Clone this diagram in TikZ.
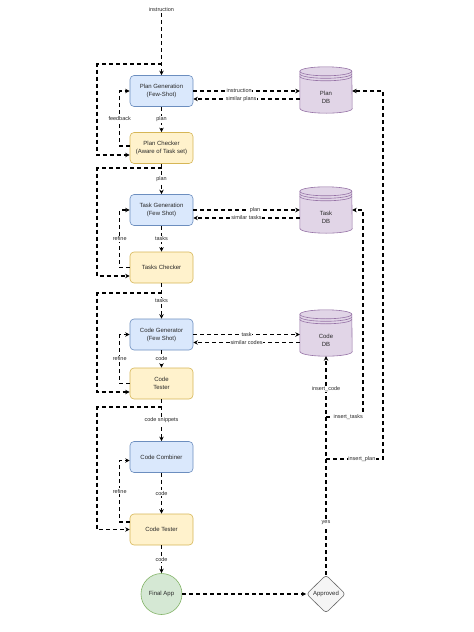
\documentclass[tikz,border=0pt]{standalone}
\usepackage{fontspec}
\setmainfont{Liberation Sans}
\usetikzlibrary{arrows.meta}
\usetikzlibrary{calc, shapes.geometric, backgrounds}
\definecolor{genfill}{RGB}{218,232,252}
\definecolor{gendraw}{RGB}{108,142,191}
\definecolor{chkfill}{RGB}{255,242,204}
\definecolor{chkdraw}{RGB}{214,182,86}
\definecolor{dbfill}{RGB}{225,213,231}
\definecolor{dbdraw}{RGB}{150,115,166}
\definecolor{appfill}{RGB}{213,232,212}
\definecolor{appdraw}{RGB}{130,179,102}
\definecolor{okfill}{RGB}{245,245,245}
\definecolor{okdraw}{RGB}{102,102,102}
\definecolor{txt}{RGB}{40,40,40}

\begin{document}
\begin{tikzpicture}[x=1pt, y=-1pt, >={Stealth[length=4.5pt,width=4.4pt]},
	box/.style={rectangle, rounded corners=4pt, minimum width=63pt, minimum height=31pt, inner sep=1pt, align=center, text=txt, font=\fontsize{6}{8}\selectfont, line width=0.6pt},
	gen/.style={box, fill=genfill, draw=gendraw},
	chk/.style={box, fill=chkfill, draw=chkdraw},
	dbbox/.style={minimum width=52pt, minimum height=32pt, inner sep=0pt, align=center, text=txt, font=\fontsize{6}{8}\selectfont},
	dbline/.style={draw=dbdraw, line width=0.6pt},
	flow/.style={->, line width=1.1pt, dash pattern=on 4pt off 3pt},
	lbl/.style={fill=white, inner sep=0.8pt, text=txt, font=\fontsize{5.5}{6}\selectfont},
]
	\useasboundingbox (0,0) rectangle (474,632);

	% main column
	\node[lbl] (instr) at (161.5,10) {instruction};
	\node[gen] (plangen) at (161.5,91) {Plan Generation\\(Few-Shot)};
	\node[chk] (plancheck) at (161.5,148) {Plan Checker\\(Aware of Task set)};
	\node[gen] (taskgen) at (161.5,210) {Task Generation\\(Few Shot)};
	\node[chk] (taskcheck) at (161.5,267.5) {Tasks Checker};
	\node[gen] (codegen) at (161.5,334.5) {Code Generator\\(Few Shot)};
	\node[chk] (codetest) at (161.5,383.5) {Code\\Tester};
	\node[gen] (combiner) at (161.5,457) {Code Combiner};
	\node[chk] (apptest) at (161.5,529.5) {Code Tester};
	\node[circle, fill=appfill, draw=appdraw, line width=0.6pt, minimum size=41pt, inner sep=0pt, text=txt, font=\fontsize{6}{8}\selectfont] (finalapp) at (161.5,594) {Final App};
	\node[diamond, aspect=1, rounded corners=3pt, fill=okfill, draw=okdraw, line width=0.6pt, minimum width=39pt, minimum height=38pt, inner sep=0pt, text=txt, font=\fontsize{6}{8}\selectfont] (approved) at (326,594) {Approved};

	% databases
	\node[dbbox] (plandb) at (326,97) {Plan\\DB};
	\node[dbbox] (taskdb) at (326,217) {Task\\DB};
	\node[dbbox] (codedb) at (326,340) {Code\\DB};
	\begin{scope}[on background layer]
		\foreach \db in {plandb,taskdb,codedb}{
			\draw[dbline, fill=dbfill] ($(\db.south west)+(0,-4.5)$) -- ($(\db.north west)+(0,-9.5)$) arc[start angle=180, end angle=0, x radius=26pt, y radius=4.5pt] -- ($(\db.south east)+(0,-4.5)$) arc[start angle=0, end angle=-180, x radius=26pt, y radius=4.5pt] -- cycle;
			\foreach \dy in {-9.5,-7,-4.5}
				\draw[dbline] ($(\db.north west)+(0,\dy)$) arc[start angle=180, end angle=360, x radius=26pt, y radius=4.5pt];
		}
	\end{scope}

	% plan stage
	\coordinate (ret1) at (161.5,64);
	\draw[flow] (instr) -- (plangen);
	\draw[flow] (ret1) -- ++(-64.5,0) |- ($(plancheck.west)+(0,7)$);
	\draw[flow] (plangen) -- node[lbl]{plan} (plancheck);
	\draw[flow] ($(plancheck.west)+(0,-2)$) -- ++(-10,0) |- (plangen.west) node[lbl, pos=0.25]{feedback};
	\draw[flow] (plangen.east) -- node[lbl, pos=0.43]{instruction} (plangen.east -| plandb.west);
	\draw[flow] ($(plangen.east -| plandb.west)+(0,8)$) -- node[lbl, pos=0.55]{similar plans} ($(plangen.east)+(0,8)$);

	% task stage
	\coordinate (ret2) at (161.5,168);
	\draw[flow] (plancheck) -- node[lbl]{plan} (taskgen);
	\draw[flow] (ret2) -- ++(-64.5,0) |- ($(taskcheck.west)+(0,8.5)$);
	\draw[flow] (taskcheck.west) -- ++(-10,0) |- (taskgen.west) node[lbl, pos=0.25]{refine};
	\draw[flow] (taskgen.east) -- node[lbl, pos=0.58]{plan} (taskgen.east -| taskdb.west);
	\draw[flow] (taskgen) -- node[lbl]{tasks} (taskcheck);
	\draw[flow] ($(taskgen.east -| taskdb.west)+(0,8)$) -- node[lbl]{similar tasks} ($(taskgen.east)+(0,8)$);

	% code stage
	\coordinate (ret3) at (161.5,293);
	\draw[flow] (taskcheck) -- node[lbl]{tasks} (codegen);
	\draw[flow] (ret3) -- ++(-64.5,0) |- ($(codetest.west)+(0,8.5)$);
	\draw[flow] (codetest.west) -- ++(-10,0) |- (codegen.west) node[lbl, pos=0.25]{refine};
	\draw[flow] (codegen) -- node[lbl]{code} (codetest);
	\draw[flow] (codegen.east) -- node[lbl]{task} (codegen.east -| codedb.west);
	\draw[flow] ($(codegen.east -| codedb.west)+(0,8)$) -- node[lbl]{similar codes} ($(codegen.east)+(0,8)$);

	% combine stage
	\coordinate (ret4) at (161.5,407);
	\draw[flow] (codetest) -- node[lbl]{code snippets} (combiner);
	\draw[flow] (ret4) -- ++(-64.5,0) |- (apptest.west);
	\draw[flow] ($(apptest.west)+(0,-7.5)$) -- ++(-10,0) |- ($(combiner.west)+(0,3.5)$) node[lbl, pos=0.25]{refine};
	\draw[flow] (combiner) -- node[lbl]{code} (apptest);
	\draw[flow] (apptest) -- node[lbl]{code} (finalapp);
	\draw[flow] (finalapp) -- (approved);

	% back into the databases
	\draw[flow] (approved) -- node[lbl, pos=0.237]{yes} node[lbl, pos=0.85]{insert\_code} (codedb);
	\coordinate (taskfork) at (326,417);
	\coordinate (planfork) at (326,459);
	\draw[flow] (taskfork) -- node[lbl, pos=0.6]{insert\_tasks} ++(37,0) |- (taskgen.east -| taskdb.east);
	\draw[flow] (planfork) -- node[lbl, pos=0.63]{insert\_plan} ++(57,0) |- (plangen.east -| plandb.east);

\end{tikzpicture}
\end{document}
